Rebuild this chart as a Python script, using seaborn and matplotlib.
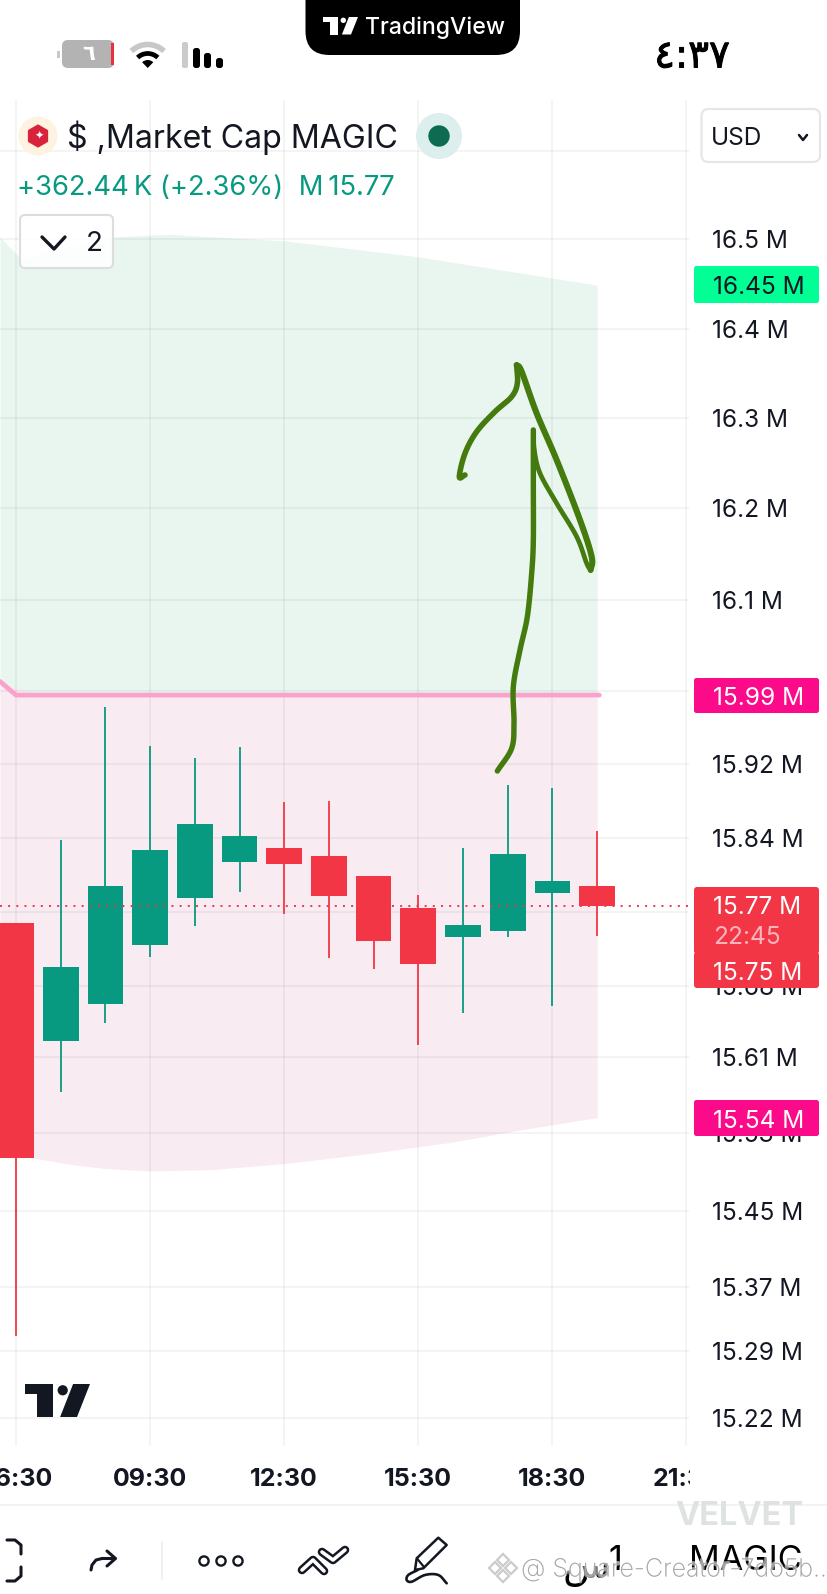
import numpy as np
import pandas as pd
import seaborn as sns
import matplotlib
matplotlib.use("Agg")
import matplotlib.pyplot as plt
from matplotlib.patches import FancyBboxPatch, Rectangle, Circle, Polygon, Arc, Wedge
from matplotlib import patheffects as pe

# ---------- data ----------
hours = [6.5, 7.5, 8.5, 9.5, 10.5, 11.5, 12.5, 13.5, 14.5, 15.5, 16.5, 17.5, 18.5, 19.5]
opens = [15.7450, 15.6190, 15.6582, 15.7217, 15.7727, 15.8117, 15.8261, 15.8178, 15.7961, 15.7618, 15.7306, 15.7368, 15.7781, 15.7849]
closes = [15.4940, 15.6976, 15.7849, 15.8247, 15.8521, 15.8399, 15.8095, 15.7742, 15.7263, 15.7009, 15.7436, 15.8200, 15.7911, 15.7641]
highs = [15.7450, 15.8355, 15.9797, 15.9378, 15.9240, 15.9363, 15.8761, 15.8771, 15.7961, 15.7756, 15.8261, 15.8946, 15.8917, 15.8446]
lows = [15.3057, 15.5642, 15.6379, 15.7091, 15.7418, 15.7785, 15.7547, 15.7077, 15.6962, 15.6140, 15.6482, 15.7303, 15.6557, 15.7310]

center_hours = [6.142, 6.5, 19.55]
center_price = [16.008, 15.993, 15.993]
upper_hours = [6.142, 6.6, 8.69, 9.93, 12.51, 15.5, 19.5]
upper_price = [16.5023, 16.4785, 16.5029, 16.5057, 16.4984, 16.4803, 16.4484]
lower_hours = [6.142, 6.90, 7.68, 8.50, 9.51, 10.86, 12.51, 14.40, 16.29, 17.94, 19.5]
lower_price = [15.500, 15.4940, 15.4873, 15.4827, 15.4802, 15.4816, 15.4880, 15.4986, 15.5110, 15.5251, 15.5368]
last_price = 15.7641

price_ticks = [16.6, 16.5, 16.399, 16.299, 16.199, 16.098, 15.997, 15.918, 15.837, 15.757, 15.678, 15.601, 15.521, 15.438, 15.358, 15.290, 15.220]
price_labels = ["", "16.5 M", "16.4 M", "16.3 M", "16.2 M", "16.1 M", "", "15.92 M", "15.84 M", "", "15.68 M", "15.61 M", "15.53 M", "15.45 M", "15.37 M", "15.29 M", "15.22 M"]
time_ticks = [6.5, 9.5, 12.5, 15.5, 18.5, 21.5]
time_labels = ["06:30", "09:30", "12:30", "15:30", "18:30", "21:30"]

GREEN = "#089981"
RED = "#F23645"
FONT = ["Inter", "DejaVu Sans"]
TAG = 17.6

sns.set_theme(style="whitegrid", rc={"axes.edgecolor": "none", "grid.color": (0, 0, 0, 0.055), "grid.linewidth": 1.1,
                                      "xtick.bottom": False, "ytick.right": False})
plt.rcParams["font.family"] = FONT

W, H = 828, 1594
fig = plt.figure(figsize=(W / 100, H / 100), dpi=100, facecolor="white")
ax = fig.add_axes([0, 1 - 1446 / H, 689 / W, (1446 - 100) / H])
ax.set_facecolor("white")

df = pd.DataFrame({"hour": hours, "open": opens, "close": closes, "high": highs, "low": lows})
df["up"] = df["close"] >= df["open"]
df["color"] = np.where(df["up"], GREEN, RED)

ax.set_yscale("log")

# position zones
up_on_c = np.interp(upper_hours, center_hours, center_price)
ax.fill_between(upper_hours, up_on_c, upper_price, color="#E8F6EF", lw=0, zorder=1)
lo_on_c = np.interp(lower_hours, center_hours, center_price)
ax.fill_between(lower_hours, lower_price, lo_on_c, color="#F8EBF1", lw=0, zorder=1)
sns.lineplot(x=center_hours, y=center_price, ax=ax, color="#F9A3CC", lw=3.4, zorder=2, sort=False,
             errorbar=None, solid_capstyle="round")

# candles
ax.vlines(df["hour"], df["low"], df["high"], colors=df["color"], lw=1.3, zorder=3)
ax.bar(df["hour"], (df["close"] - df["open"]).abs(), bottom=df[["open", "close"]].min(axis=1),
       width=0.8, color=df["color"], lw=0, zorder=4)
ax.axhline(last_price, color=RED, lw=1.4, ls=(0, (1, 3.2)), zorder=5)

ax.set_xlim(6.142, 21.556)
ax.set_ylim(15.1913, 16.6583)
ax.set_axisbelow("line")
ax.set_xticks(time_ticks)
ax.set_xticklabels(time_labels, fontsize=18, fontweight="bold", color="#131722")
ax.set_yticks(price_ticks)
ax.set_yticklabels(price_labels, fontsize=TAG, color="#131722")
ax.minorticks_off()
ax.yaxis.tick_right()
ax.tick_params(axis="y", length=0, pad=16.6, labelright=True, labelleft=False)
ax.tick_params(axis="x", length=0, pad=16)
ax.grid(True, axis="both")
ax.margins(0)

# ---------- overlay in pixel coordinates for app chrome ----------
ov = fig.add_axes([0, 0, 1, 1], facecolor="none")
ov.set_xlim(0, W)
ov.set_ylim(H, 0)
ov.axis("off")


def rbox(x0, y0, x1, y1, r, fc, ec="none", lw=0, z=10):
    ov.add_patch(FancyBboxPatch((x0 + r, y0 + r), x1 - x0 - 2 * r, y1 - y0 - 2 * r,
                                boxstyle=f"round,pad={r},rounding_size={r}", fc=fc, ec=ec, lw=lw, zorder=z))


def txt(x, y, s, size, color="#131722", ha="left", va="center", z=12, **kw):
    return ov.text(x, y, s, fontsize=size, color=color, ha=ha, va=va, zorder=z, **kw)


def stroke(xs, ys, color="black", lw=2, z=11, cap="round", **kw):
    ov.plot(xs, ys, color=color, lw=lw, zorder=z, solid_capstyle=cap, solid_joinstyle="round", **kw)


def smooth(pts, n=12):
    """Catmull-Rom curve through hand-stroke points."""
    p = np.array(pts, float)
    p = np.vstack([2 * p[0] - p[1], p, 2 * p[-1] - p[-2]])
    out = []
    for i in range(1, len(p) - 2):
        for t in np.linspace(0, 1, n, endpoint=False):
            out.append(0.5 * (2 * p[i] + (p[i + 1] - p[i - 1]) * t
                              + (2 * p[i - 1] - 5 * p[i] + 4 * p[i + 1] - p[i + 2]) * t ** 2
                              + (3 * p[i] - p[i - 1] - 3 * p[i + 1] + p[i + 2]) * t ** 3))
    out.append(p[-2])
    return np.array(out)


def tv_logo(x0, y0, w, h, color, z=12):
    T = [(0, 0), (.43, 0), (.43, 1), (.19, 1), (.19, .31), (0, .31)]
    D = [(.74, 0), (1, 0), (.80, 1), (.54, 1)]
    for P in (T, D):
        ov.add_patch(Polygon([(x0 + u * w, y0 + v * h) for u, v in P], fc=color, ec="none", zorder=z))
    ov.add_patch(Circle((x0 + .58 * w, y0 + .19 * h), .155 * h, fc=color, ec="none", zorder=z))


# hide what runs past the time axis
ov.add_patch(Rectangle((690, 1455), 138, 45, fc="white", ec="none", zorder=9))

# top pill
rbox(305.5, -40, 520, 55, 24, "black")
tv_logo(323, 17, 35, 17.5, "white")
txt(365, 27.5, "TradingView", 16.6, "white", fontweight="medium")

# status bar
rbox(62, 40, 114, 68, 6, "#B3B3B3")
ov.add_patch(Rectangle((111, 43), 3, 22, fc="#E8303F", ec="none", zorder=11))
ov.add_patch(Rectangle((57, 51), 3, 7, fc="#C9C9C9", ec="none", zorder=10))
txt(89, 54, "٦", 15, "white", ha="center", family="DejaVu Sans", fontweight="bold")
for r, c, lw in ((23.5, "#C8C8C8", 4.0), (14.5, "black", 3.4)):
    ov.add_patch(Arc((147.7, 68), 2 * r, 2 * r, theta1=226, theta2=314, color=c, lw=lw, zorder=11))
ov.add_patch(Wedge((147.7, 68), 8, 226, 314, fc="black", ec="none", zorder=11))
rbox(182, 42, 188, 68, 2, "#CBCBCB")
for x0, y0 in ((193, 48), (204, 53), (216, 58)):
    rbox(x0, y0, x0 + 7, 68, 2.8, "black")
txt(692, 56.5, "٤:٣٧", 28, "black", ha="center", family="DejaVu Sans",
    path_effects=[pe.withStroke(linewidth=0.7, foreground="black")])

# header
ov.add_patch(Circle((38, 136), 19.5, fc="#FDF3E0", ec="none", zorder=10))
hexa = [(38 + 10.5 * np.sin(a), 136 + 10.5 * np.cos(a)) for a in np.arange(6) * np.pi / 3]
ov.add_patch(Polygon(hexa, fc="#D9233B", ec="#D9233B", lw=1.5, joinstyle="round", zorder=11))
txt(39, 136, "✦", 8, "white", ha="center", family="DejaVu Sans")
txt(67, 138, "$ ,Market Cap MAGIC", 23.1, "#131722")
ov.add_patch(Circle((439, 136), 23, fc="#DCEFEC", ec="none", zorder=10))
ov.add_patch(Circle((439, 136), 10.7, fc="#0D6B52", ec="none", zorder=11))
txt(17, 188, "+362.44\u2009K (+2.36%)  M\u200915.77", 19.7, GREEN)

# legend toggle box
rbox(20, 215, 113, 268, 5, (1, 1, 1, 0.88), ec="#DDDDDD", lw=1.5)
stroke([42, 54, 65], [237, 249, 237], "#131722", 2.4)
txt(94, 244, "2", 20, "#131722", ha="center")

# currency box
rbox(701.5, 109, 820, 162, 7, "white", ec="#E6E6E6", lw=1.6)
txt(711, 138, "USD", 17.6, "#131722")
stroke([799, 803, 807], [135, 140, 135], "#131722", 1.8)

# price tags
rbox(694, 266, 819, 303, 2.5, "#00FF95")
txt(713, 287, "16.45 M", TAG)
rbox(694, 678, 819, 713, 2.5, "#FB0B8A")
txt(713, 698.5, "15.99 M", TAG, "white")
rbox(694, 1100, 819, 1136, 2.5, "#FB0B8A")
txt(713, 1121, "15.54 M", TAG, "white")
rbox(694, 887, 819, 954, 3, RED)
rbox(694, 952, 819, 988, 3, RED)
txt(713, 907, "15.77 M", TAG, "white")
txt(713, 937, "22:45", TAG, "#F9B5BD")
txt(713, 973, "15.75 M", TAG, "white")

# hand drawn arrow
shaft = [(172, 1293), (215, 1225), (222, 1150), (220, 1040), (240, 930), (262, 830), (275, 700), (280, 600), (280, 430), (280, 270)]
barb_in = [(280, 270), (283, 330), (300, 400), (350, 490), (410, 590), (440, 670), (452, 690)]
barb_out = [(452, 690), (455, 650), (420, 540), (350, 360), (290, 220), (245, 95), (230, 75)]
hook = [(230, 75), (232, 130), (215, 170), (165, 215), (110, 275), (75, 340), (58, 410), (75, 405)]
for seg, lw in ((shaft, 3.9), (barb_in, 3.4), (barb_out, 4.4), (hook, 4.0)):
    c = smooth(seg)
    stroke(440 + c[:, 0] / 3, 340 + c[:, 1] / 3, "#447A0E", lw)

# chart logo
tv_logo(25, 1384, 65, 33, "#131722")

# bottom toolbar
ov.plot([0, 828], [1505, 1505], color="#F0F0F0", lw=1.2, zorder=10)
stroke([7, 15, 21, 21], [1540, 1540, 1545, 1554], "#131722", 2.2)
stroke([7, 15, 21, 21], [1581, 1581, 1576, 1567], "#131722", 2.2)
stroke([91, 92, 96, 102, 115], [1570, 1565, 1560, 1558.5, 1558.5], "#131722", 2.2)
stroke([107, 115.5, 107], [1551, 1558.5, 1566], "#131722", 2.2)
ov.plot([162, 162], [1542, 1579], color="#EDEDED", lw=1.2, zorder=10)
for cx in (204, 221, 238):
    ov.add_patch(Circle((cx, 1561), 4.6, fc="white", ec="#131722", lw=1.7, zorder=11))
for xs, ys in (([302, 313, 324], [1570, 1560, 1571]), ([322, 333, 345], [1552, 1560, 1550])):
    stroke(xs, ys, "#131722", 6.2)
    stroke(xs, ys, "white", 2.6, z=12)
ov.add_patch(Polygon([(438.3, 1537.7), (446.7, 1545), (423.3, 1568.3), (415, 1570), (416.7, 1558.3)],
                     fc="white", ec="#131722", lw=1.8, joinstyle="round", zorder=11))
stroke([417, 424], [1558.5, 1567], "#131722", 1.6)
sc = smooth([(417.7, 1570), (408.3, 1575), (406.7, 1580), (411.7, 1581.7), (425, 1575), (438.3, 1575), (446.7, 1583.3)])
stroke(sc[:, 0], sc[:, 1], "#131722", 1.9)

txt(615, 1561, "1", 24.5, "black", ha="center")
txt(586, 1568, "س", 28, "black", ha="center", family="DejaVu Sans")
txt(746, 1561, "MAGIC", 24.5, "black", ha="center")
txt(675, 1516.5, "VELVET", 23.4, "#DFE2E2", fontweight="bold")

# watermark
glow = [pe.withStroke(linewidth=2.5, foreground=(1, 1, 1, 0.55))]
txt(521, 1570, "@ Square-Creator-7do5b...", 18, (0.62, 0.62, 0.62, 0.85), z=13, fontweight="light", path_effects=glow)
for dx, dy in ((0, -8), (-8, 0), (8, 0), (0, 8)):
    ov.add_patch(Polygon([(503 + dx + u, 1568 + dy + v) for u, v in ((0, -6), (6, 0), (0, 6), (-6, 0))],
                         fc="none", ec=(0.75, 0.75, 0.75, 0.8), lw=1.6, zorder=13))

fig.savefig("out.png", dpi=100)
